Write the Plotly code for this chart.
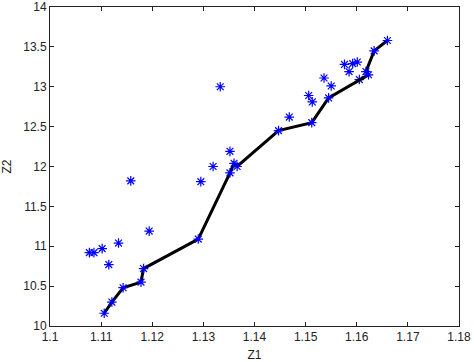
import plotly.graph_objects as go

# Fitted path (black line with markers at vertices)
line_z1 = [1.1106, 1.1121, 1.1143, 1.1178, 1.1183, 1.1290, 1.1352, 1.1360, 1.1366,
           1.1447, 1.1512, 1.1545, 1.1623, 1.1618, 1.1634, 1.1660]
line_z2 = [10.16, 10.30, 10.48, 10.55, 10.72, 11.09, 11.92, 12.04, 12.00,
           12.45, 12.55, 12.86, 13.15, 13.19, 13.45, 13.58]

# Scattered samples
scatter_z1 = [1.1077, 1.1086, 1.1102, 1.1115, 1.1134, 1.1158, 1.1194, 1.1295, 1.1319,
              1.1333, 1.1352, 1.1468, 1.1506, 1.1513, 1.1536, 1.1550, 1.1576, 1.1585,
              1.1592, 1.1601, 1.1605]
scatter_z2 = [10.92, 10.92, 10.97, 10.77, 11.04, 11.82, 11.19, 11.81, 12.00,
              13.00, 12.19, 12.62, 12.89, 12.81, 13.11, 13.01, 13.28, 13.19,
              13.29, 13.31, 13.09]

x_ticks = [1.1, 1.11, 1.12, 1.13, 1.14, 1.15, 1.16, 1.17, 1.18]
x_tick_text = ["1.1", "1.11", "1.12", "1.13", "1.14", "1.15", "1.16", "1.17", "1.18"]
y_ticks = [10, 10.5, 11, 11.5, 12, 12.5, 13, 13.5, 14]
y_tick_text = ["10", "10.5", "11", "11.5", "12", "12.5", "13", "13.5", "14"]

blue = "rgb(0,0,255)"
star = dict(symbol="asterisk-open", size=8, color=blue, line=dict(color=blue, width=1.2))
font = dict(family="Liberation Sans, Arial", size=12, color="#222")

fig = go.Figure()
fig.add_trace(go.Scatter(x=scatter_z1, y=scatter_z2, mode="markers", marker=star,
                         showlegend=False))
fig.add_trace(go.Scatter(x=line_z1, y=line_z2, mode="lines+markers",
                         line=dict(color="black", width=3), marker=star,
                         showlegend=False))

axis_common = dict(showgrid=False, zeroline=False, showline=True, linecolor="#222",
                   linewidth=1, mirror="ticks", ticks="inside", ticklen=4,
                   tickcolor="#222", tickfont=font, automargin=False)

fig.update_xaxes(range=[1.1, 1.18], tickvals=x_ticks, ticktext=x_tick_text,
                 title=dict(text="Z1", font=font), **axis_common)
fig.update_yaxes(range=[10, 14], tickvals=y_ticks, ticktext=y_tick_text,
                 title=dict(text="Z2", font=font), **axis_common)

fig.update_layout(width=474, height=362, plot_bgcolor="white", paper_bgcolor="white",
                  margin=dict(l=50, r=15, t=7, b=36))

fig.write_html("out.html", config={"displayModeBar": False},
               post_script="document.body.style.margin='0';")
